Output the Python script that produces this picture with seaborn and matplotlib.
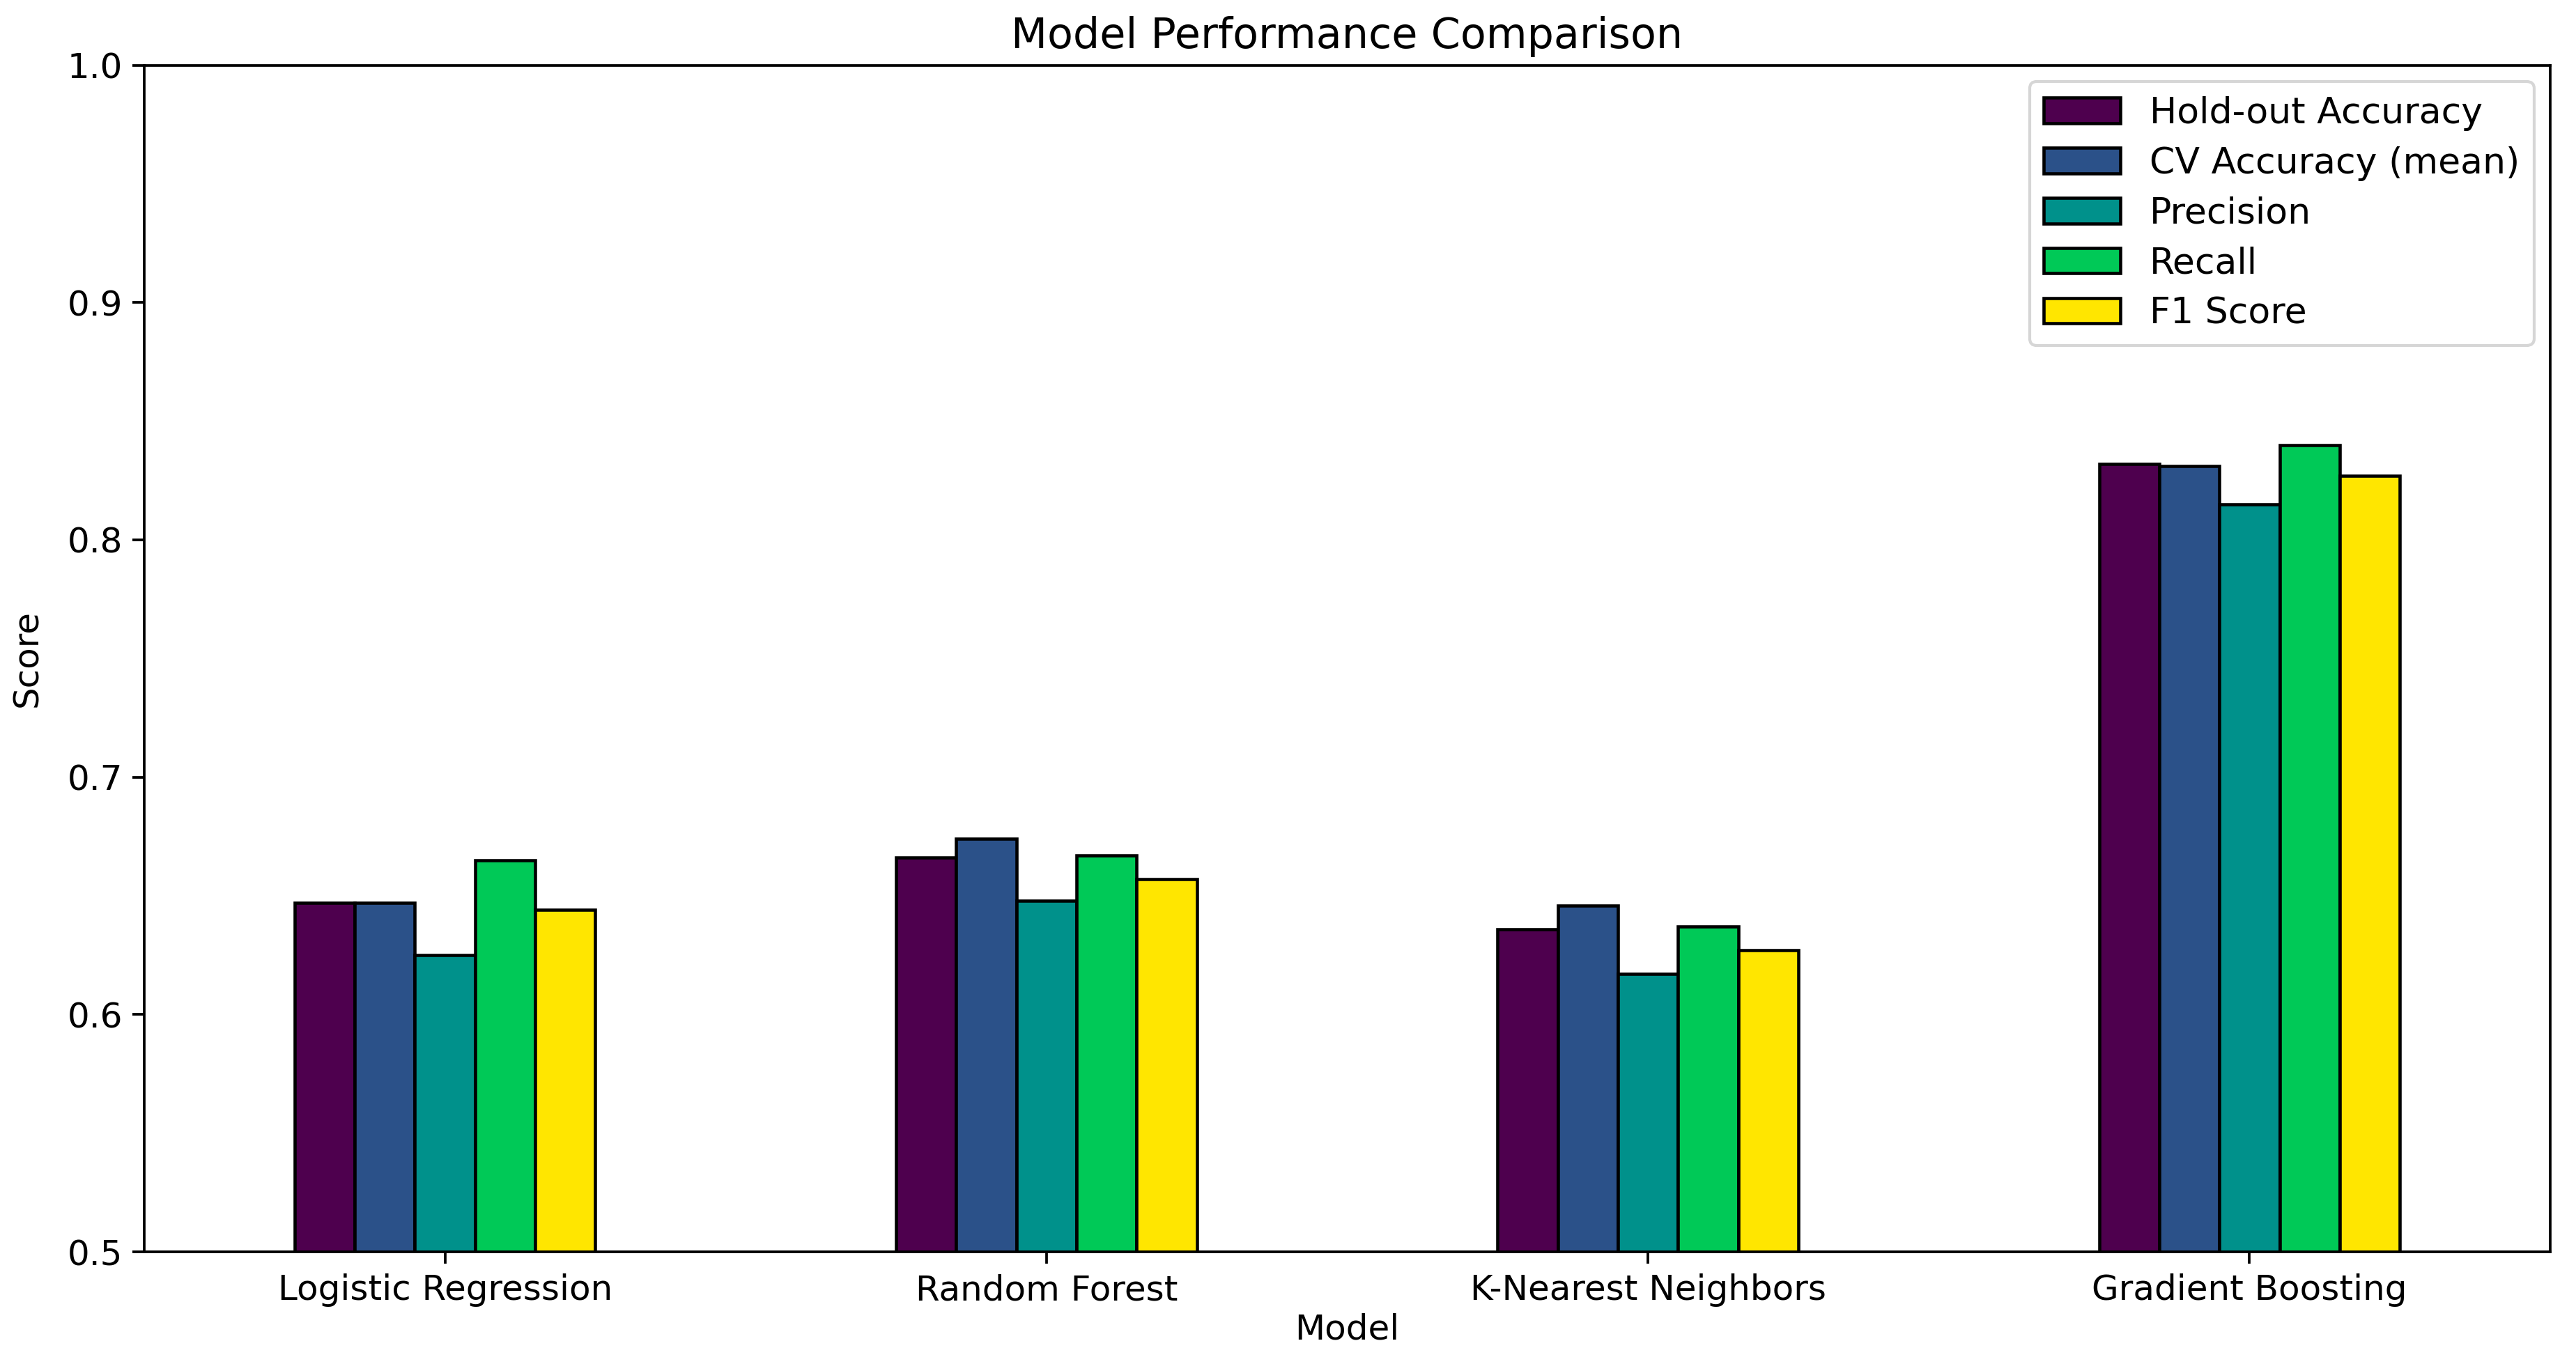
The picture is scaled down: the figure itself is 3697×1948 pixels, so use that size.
import matplotlib
matplotlib.use("Agg")
import matplotlib.pyplot as plt
import seaborn as sns
import pandas as pd

models = ["Logistic Regression", "Random Forest", "K-Nearest Neighbors", "Gradient Boosting"]
metrics = ["Hold-out Accuracy", "CV Accuracy (mean)", "Precision", "Recall", "F1 Score"]
holdout_acc = [0.647, 0.666, 0.636, 0.832]
cv_acc = [0.647, 0.674, 0.646, 0.831]
precision = [0.625, 0.648, 0.617, 0.815]
recall = [0.665, 0.667, 0.637, 0.840]
f1 = [0.644, 0.657, 0.627, 0.827]
colors = ["#4E004E", "#2B5189", "#00918B", "#00C957", "#FFE600"]

series = [holdout_acc, cv_acc, precision, recall, f1]
rows = []
for metric, vals in zip(metrics, series):
    for m, v in zip(models, vals):
        rows.append({"Model": m, "Metric": metric, "Score": v})
df = pd.DataFrame(rows)

plt.rcParams["font.family"] = ["DejaVu Sans"]
fig = plt.figure(figsize=(3697 / 300, 1948 / 300), dpi=300)
ax = fig.add_axes([0.056, 0.0775, 0.934, 0.8745])

sns.barplot(data=df, x="Model", y="Score", hue="Metric", order=models,
            hue_order=metrics, palette=colors, width=0.5, gap=0,
            edgecolor="black", linewidth=1.1, saturation=1, ax=ax, errorbar=None)

ax.set_ylim(0.5, 1.0)
ax.set_xlim(-0.5, 3.5)
ax.set_title("Model Performance Comparison", fontsize=14.5, pad=6)
ax.set_xlabel("Model", fontsize=12, labelpad=2)
ax.set_ylabel("Score", fontsize=12, labelpad=8)
ax.tick_params(labelsize=12, length=4, width=0.9)
for s in ax.spines.values():
    s.set_linewidth(0.9)
leg = ax.legend(loc="upper right", fontsize=12.5, title=None,
                labelspacing=0.42, handlelength=2.1, borderaxespad=0.45)
fig.savefig("out.png", dpi=300)
